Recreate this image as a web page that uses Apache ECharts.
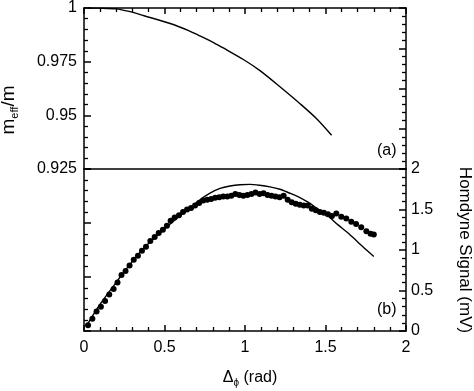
<!DOCTYPE html>
<html>
<head>
<meta charset="utf-8">
<script src="https://cdn.jsdelivr.net/npm/echarts@6/dist/echarts.min.js"></script>
<style>
html,body{margin:0;padding:0;background:#fff;}
#chart{width:474px;height:391px;}
</style>
</head>
<body>
<div id="chart"></div>
<script>
// Panel (a): effective mass ratio vs phase difference
var massX = [0.025, 0.1, 0.2, 0.28, 0.373, 0.559, 0.663, 0.72, 0.807, 0.865, 0.99, 1.093, 1.217, 1.342, 1.445, 1.538];
var massY = [1.0, 0.99995, 0.9996, 0.9984, 0.9964, 0.9922, 0.989, 0.987, 0.9838, 0.9814, 0.976, 0.9708, 0.9633, 0.9554, 0.9484, 0.9407];

// Panel (b): measured homdyne signal (dots)
var dotX = [0.025,0.052,0.078,0.105,0.131,0.157,0.184,0.208,0.233,0.258,0.283,0.309,0.335,0.36,0.385,0.412,0.439,0.464,0.49,0.515,0.538,0.563,0.59,0.615,0.64,0.665,0.69,0.715,0.74,0.765,0.79,0.815,0.84,0.865,0.89,0.915,0.94,0.965,0.99,1.015,1.04,1.065,1.09,1.115,1.14,1.165,1.19,1.215,1.24,1.265,1.29,1.315,1.34,1.365,1.39,1.415,1.44,1.465,1.49,1.515,1.54,1.567,1.598,1.629,1.66,1.69,1.722,1.754,1.78,1.8];
var dotY = [0.07,0.15,0.24,0.30,0.37,0.45,0.52,0.60,0.69,0.74,0.81,0.88,0.93,0.99,1.04,1.11,1.16,1.21,1.25,1.30,1.36,1.40,1.43,1.47,1.50,1.52,1.55,1.58,1.61,1.62,1.63,1.645,1.65,1.66,1.66,1.67,1.69,1.68,1.67,1.68,1.69,1.71,1.69,1.70,1.68,1.67,1.66,1.65,1.67,1.62,1.59,1.57,1.56,1.55,1.55,1.51,1.49,1.47,1.46,1.44,1.42,1.45,1.41,1.39,1.35,1.32,1.28,1.23,1.20,1.19];

// Panel (b): theoretical curve (line)
var fitX = [0.02,0.1,0.2,0.3,0.4,0.5,0.6,0.66,0.72,0.78,0.845,0.907,0.97,1.03,1.09,1.155,1.217,1.267,1.329,1.391,1.453,1.516,1.578,1.64,1.70,1.76,1.80];
var fitY = [0.08,0.33,0.60,0.86,1.08,1.26,1.43,1.52,1.62,1.70,1.76,1.79,1.806,1.81,1.80,1.78,1.75,1.71,1.66,1.59,1.506,1.42,1.31,1.21,1.10,0.99,0.92];

function pairs(xs, ys){ return xs.map(function(x,i){return [x, ys[i]];}); }

var FONT = 'Liberation Sans, Arial, sans-serif';
var axisLine = {show:true, onZero:false, lineStyle:{color:'#000', width:1.5}};
function tick(len){ return {show:true, inside:true, length:len, lineStyle:{color:'#000', width:1.5}}; }
function minor(len){ return {show:true, splitNumber:5, length:len, lineStyle:{color:'#000', width:1.3}}; }
var lbl = {color:'#000', fontSize:16, fontFamily:FONT};

var chart = echarts.init(document.getElementById('chart'), null, {renderer:'canvas'});
chart.setOption({
  animation:false,
  backgroundColor:'#fff',
  grid:[
    {left:84, top:7, width:322, height:162},
    {left:84, top:169, width:322, height:162}
  ],
  xAxis:[
    {gridIndex:0, type:'value', position:'top', min:0, max:2, interval:0.5,
     axisLine:axisLine, axisTick:tick(6), minorTick:minor(4), axisLabel:{show:false}, splitLine:{show:false}},
    {gridIndex:1, type:'value', position:'bottom', min:0, max:2, interval:0.5,
     axisLine:axisLine, axisTick:tick(6), minorTick:minor(4),
     axisLabel:Object.assign({margin:9}, lbl), splitLine:{show:false}},
    {gridIndex:1, type:'value', position:'top', min:0, max:2, interval:0.5,
     axisLine:axisLine, axisTick:{show:false}, axisLabel:{show:false}, splitLine:{show:false}}
  ],
  yAxis:[
    {gridIndex:0, type:'value', position:'left', min:0.925, max:1, interval:0.025,
     axisLine:axisLine, axisTick:tick(7), minorTick:minor(4),
     axisLabel:Object.assign({margin:7}, lbl), splitLine:{show:false}},
    {gridIndex:0, type:'value', position:'right', min:2, max:4, interval:0.5,
     axisLine:axisLine, axisTick:tick(7), minorTick:minor(4), axisLabel:{show:false}, splitLine:{show:false}},
    {gridIndex:1, type:'value', position:'left', min:0.85, max:0.925, interval:0.025,
     axisLine:axisLine, axisTick:tick(7), minorTick:minor(4), axisLabel:{show:false}, splitLine:{show:false}},
    {gridIndex:1, type:'value', position:'right', min:0, max:2, interval:0.5,
     axisLine:axisLine, axisTick:tick(7), minorTick:minor(4),
     axisLabel:Object.assign({margin:5}, lbl), splitLine:{show:false}}
  ],
  series:[
    {type:'line', xAxisIndex:0, yAxisIndex:0, data:pairs(massX, massY), smooth:0.3,
     showSymbol:false, lineStyle:{color:'#000', width:1.4}},
    {type:'line', xAxisIndex:1, yAxisIndex:3, data:pairs(fitX, fitY), smooth:0.3,
     showSymbol:false, lineStyle:{color:'#000', width:1.4}},
    {type:'scatter', xAxisIndex:1, yAxisIndex:3, data:pairs(dotX, dotY),
     symbol:'circle', symbolSize:6, itemStyle:{color:'#000', opacity:1}}
  ],
  graphic:[
    {type:'text', left:377, top:143, style:{text:'(a)', fill:'#000', font:'16px '+FONT}},
    {type:'text', left:377, top:302, style:{text:'(b)', fill:'#000', font:'16px '+FONT}},
    {type:'text', x:250, y:378, style:{
      text:'{a|Δ}{s|ϕ}{a| (rad)}', fill:'#000', align:'center', verticalAlign:'middle',
      rich:{a:{fontSize:16, fontFamily:FONT, lineHeight:20, verticalAlign:'middle'},
            s:{fontSize:10, fontFamily:FONT, lineHeight:10, verticalAlign:'bottom', padding:[6,0,0,0]}}}},
    {type:'text', x:9, y:110, rotation:Math.PI/2, style:{
      text:'{a|m}{s|eff}{a|/m}', fill:'#000', align:'center', verticalAlign:'middle',
      rich:{a:{fontSize:19, fontFamily:FONT, lineHeight:22, verticalAlign:'middle'},
            s:{fontSize:11, fontFamily:FONT, lineHeight:11, verticalAlign:'bottom', padding:[7,0,0,0]}}}},
    {type:'text', x:465, y:250, rotation:-Math.PI/2, style:{
      text:'Homdyne Signal (mV)', fill:'#000', align:'center', verticalAlign:'middle',
      font:'17px '+FONT}}
  ]
});
</script>
</body>
</html>
